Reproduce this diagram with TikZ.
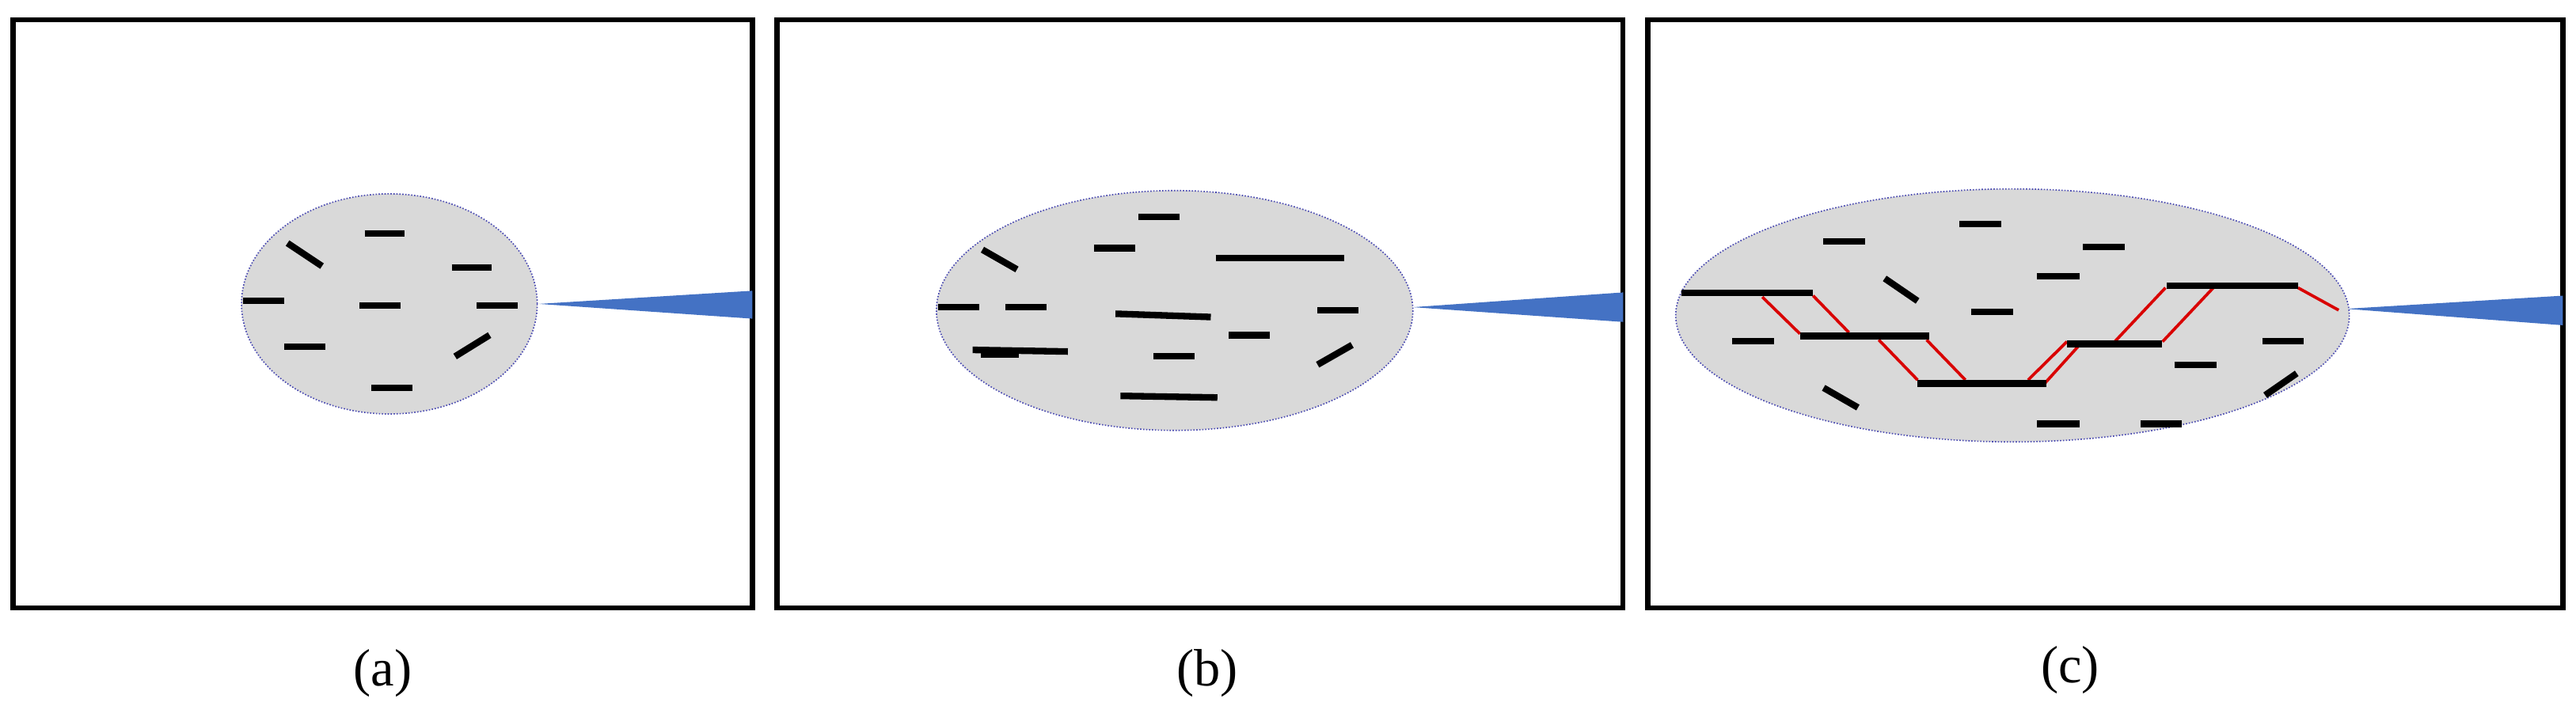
\documentclass[tikz,border=0pt]{standalone}
\usepackage{fontspec}
\setmainfont{Liberation Serif}
\begin{document}
\begin{tikzpicture}[x=1pt,y=-1pt,
  panel/.style={draw=black,line width=3pt},
  blob/.style={fill=gray!30,draw=gray!60!blue,densely dotted,line width=0.8pt},
  seg/.style={line width=4pt,black},
  rl/.style={line width=1.8pt,red!85!black},
  lab/.style={font=\fontsize{32}{34}\selectfont}]
\useasboundingbox (0,0) rectangle (1568,432);
% panels
\draw[panel] (8,12) rectangle (458,370);
\draw[panel] (473,12) rectangle (988,370);
\draw[panel] (1003,12) rectangle (1560,370);
\definecolor{bl}{RGB}{68,114,196}
% (a)
\fill[bl] (328,185) -- (458,177) -- (458,194) -- cycle;
\draw[blob] (237,185) ellipse [x radius=90,y radius=67];
\foreach \a/\b/\c/\d in {222/142/246/142,175/148/196/162,275/163/299/163,148/183/173/183,219/186/244/186,290/186/315/186,173/211/198/211,277/217/298/204,226/236/251/236}
  \draw[seg] (\a,\b) -- (\c,\d);
\node[lab] (la) at (233,410) {(a)};
% (b)
\fill[bl] (860,187) -- (988,178) -- (988,196) -- cycle;
\draw[blob] (715,189) ellipse [x radius=145,y radius=73];
\foreach \a/\b/\c/\d in {693/132/718/132,598/152/619/164,666/151/691/151,740/157/818/157,571/187/596/187,612/187/637/187,679/191/737/193,802/189/827/189,592/213/650/214,597/216/620/216,748/204/773/204,702/217/727/217,802/222/823/210,682/241/741/242}
  \draw[seg] (\a,\b) -- (\c,\d);
\node[lab] (lb) at (735,410) {(b)};
% (c)
\fill[bl] (1428,188) -- (1560,180) -- (1560,198) -- cycle;
\draw[blob] (1225,192) ellipse [x radius=205,y radius=77];
\foreach \a/\b/\c/\d in {1072.7/180.8/1095.6/203.2,1103.6/180/1125.4/202.4,1143.6/206.9/1167.2/231.3,1172.7/206.9/1196.3/231.3,1234.5/231.3/1258.1/208,1243.6/234.5/1265.4/210.4,1287.2/208/1318.1/175.2,1316.3/208/1347.2/175.2,1398.8/175.2/1423.5/188.8}
  \draw[rl] (\a,\b) -- (\c,\d);
\foreach \a/\b/\c/\d in {1023.6/178.4/1103.6/178.4,1095.6/204.5/1174.5/204.5,1167.2/233.4/1245.4/233.4,1258/209.3/1316/209.3,1318.8/173.9/1398.8/173.9,1109.8/146.8/1135.2/146.8,1192.7/136.2/1218.1/136.2,1267.9/150.3/1293.4/150.3,1240/168.3/1266/168.3,1200/189.9/1225.4/189.9,1147.2/169.5/1167.2/183.2,1054.5/207.7/1080/207.7,1377/207.7/1402.4/207.7,1323.5/222.1/1349/222.1,1110/236.1/1130.9/248.1,1378.8/240.6/1398/227.3,1240/258.1/1266/258.1,1302.8/258.1/1328.2/258.1}
  \draw[seg] (\a,\b) -- (\c,\d);
\node[lab] (lc) at (1260,408) {(c)};
\end{tikzpicture}
\end{document}
